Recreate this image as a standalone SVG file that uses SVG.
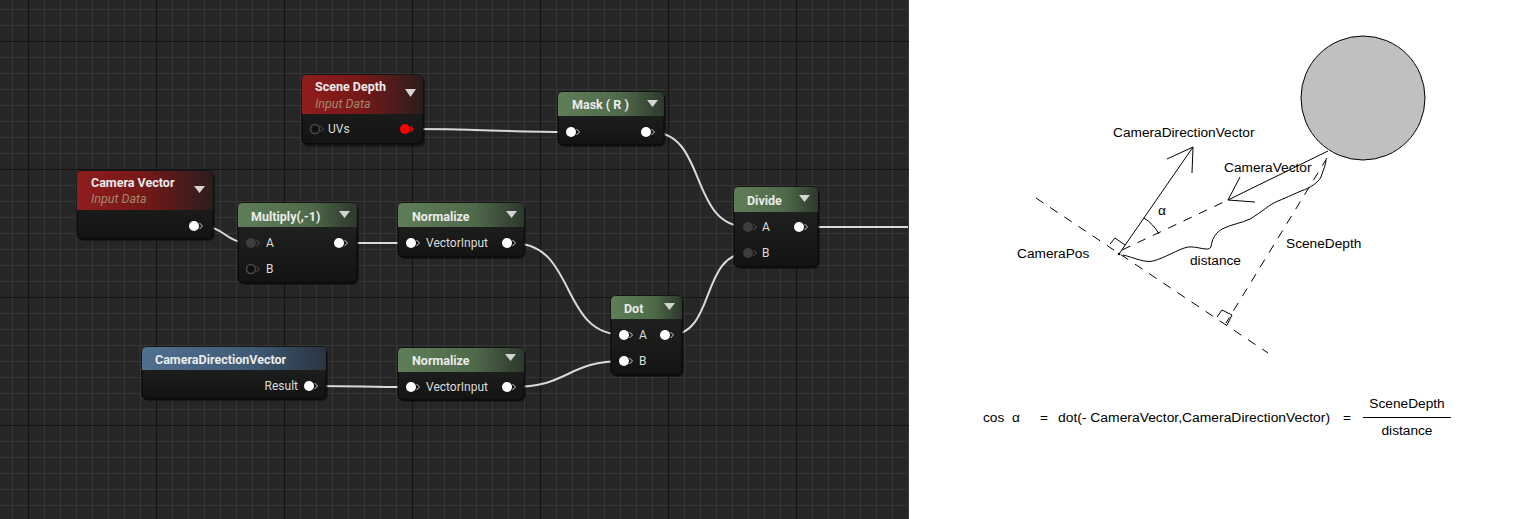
<svg xmlns="http://www.w3.org/2000/svg" width="1524" height="519" viewBox="0 0 1524 519">
<defs>
<style>
.title{font-family:Roboto,"Liberation Sans",sans-serif;font-weight:bold;font-size:12.5px;fill:#ececec}
.sub{font-family:Roboto,"Liberation Sans",sans-serif;font-style:italic;font-size:12.5px;fill:#a4876a}
.pl{font-family:Roboto,"Liberation Sans",sans-serif;font-size:12px;fill:#dcdcdc}
.body{fill:url(#gBody);stroke:#050505;stroke-width:1}
.tri{fill:#d4d4d4}
.wire{fill:none;stroke:#d9d9d9;stroke-width:2}
.lbl{font-family:"Liberation Sans",Arial,sans-serif;font-size:13.7px;fill:#000}
.ln{fill:none;stroke:#000;stroke-width:1}
.dash{fill:none;stroke:#000;stroke-width:1;stroke-dasharray:9 8}
.shadow{fill:#000;opacity:0.35}
</style>
<pattern id="minor" x="0" y="0" width="16" height="16" patternUnits="userSpaceOnUse">
<path d="M12.5 0V16M0 9.5H16" stroke="#363636" stroke-width="1"/>
</pattern>
<pattern id="major" x="0" y="0" width="128" height="128" patternUnits="userSpaceOnUse">
<path d="M28.5 0V128M0 41.5H128" stroke="#141414" stroke-width="1.2"/>
</pattern>
<linearGradient id="gBody" x1="0" y1="0" x2="0" y2="1">
<stop offset="0" stop-color="#242624"/>
<stop offset="1" stop-color="#121312"/>
</linearGradient>
<linearGradient id="gRed" x1="0" y1="0" x2="1" y2="0">
<stop offset="0" stop-color="#911d1d"/>
<stop offset="0.5" stop-color="#751818"/>
<stop offset="1" stop-color="#2b1d1d"/>
</linearGradient>
<linearGradient id="gGreen" x1="0" y1="0" x2="1" y2="0">
<stop offset="0" stop-color="#5f7e58"/>
<stop offset="0.6" stop-color="#4f6a4a"/>
<stop offset="1" stop-color="#2d382c"/>
</linearGradient>
<linearGradient id="gBlue" x1="0" y1="0" x2="1" y2="0">
<stop offset="0" stop-color="#4f7090"/>
<stop offset="0.6" stop-color="#3f5a74"/>
<stop offset="1" stop-color="#2a3440"/>
</linearGradient>
<g id="pinOn"><circle r="5" fill="#ffffff"/><path d="M5.5 -3L8.5 0L5.5 3" fill="none" stroke="#cfcfcf" stroke-width="1"/></g>
<g id="pinDark"><circle r="5" fill="#3d3d3d"/><path d="M5.5 -3L8.5 0L5.5 3" fill="none" stroke="#555" stroke-width="1"/></g>
<g id="pinHollow"><circle r="4.5" fill="#101010" stroke="#4a4a4a" stroke-width="1.5"/><path d="M5.5 -3L8.5 0L5.5 3" fill="none" stroke="#555" stroke-width="1"/></g>
<g id="pinRed"><circle r="5" fill="#ff0000"/><path d="M5.5 -3L8.5 0L5.5 3" fill="#ff0000" stroke="#ff0000" stroke-width="1"/></g>
</defs>

<!-- left panel -->
<rect x="0" y="0" width="909" height="519" fill="#262626"/>
<rect x="0" y="0" width="909" height="519" fill="url(#minor)"/>
<rect x="0" y="0" width="909" height="519" fill="url(#major)"/>
<!-- right panel -->
<rect x="909" y="0" width="615" height="519" fill="#ffffff"/>

<g id="connectors">
<path class="wire" d="M410 129C480 129 500 132 571 132"/>
<path class="wire" d="M651 132C708 132 688 227 748 227"/>
<path class="wire" d="M199 226C226 226 224 243 251 243"/>
<path class="wire" d="M344 243L411 243"/>
<path class="wire" d="M512 243C578 243 558 335 624 335"/>
<path class="wire" d="M314 386C360 386 365 387 411 387"/>
<path class="wire" d="M512 387C570 387 566 361 624 361"/>
<path class="wire" d="M670 335C716 335 700 253 748 253"/>
<path class="wire" d="M804 227L908 227"/>
</g>

<g id="node-scene-depth">
<rect class="shadow" x="303" y="77" width="122" height="70" rx="6"/>
<rect class="body" x="302" y="75" width="121" height="69" rx="5"/>
<path d="M302 114V80Q302 75 307 75H418Q423 75 423 80V114Z" fill="url(#gRed)"/>
<text class="title" x="315" y="91">Scene Depth</text>
<text class="sub" x="315" y="108">Input Data</text>
<path class="tri" d="M405 89H416L410.5 97Z"/>
<use href="#pinHollow" x="315" y="129"/>
<text class="pl" x="328" y="133">UVs</text>
<use href="#pinRed" x="405" y="129"/>
</g>

<g id="node-mask">
<rect class="shadow" x="559" y="94" width="107" height="53" rx="6"/>
<rect class="body" x="558" y="92" width="106" height="53" rx="5"/>
<path d="M558 116V97Q558 92 563 92H659Q664 92 664 97V116Z" fill="url(#gGreen)"/>
<text class="title" x="572" y="109">Mask ( R )</text>
<path class="tri" d="M647 100H658L652.5 107Z"/>
<use href="#pinOn" x="571" y="132"/>
<use href="#pinOn" x="646" y="132"/>
</g>

<g id="node-camera-vector">
<rect class="shadow" x="78" y="173" width="137" height="68" rx="6"/>
<rect class="body" x="77" y="171" width="136" height="68" rx="5"/>
<path d="M77 210V176Q77 171 82 171H208Q213 171 213 176V210Z" fill="url(#gRed)"/>
<text class="title" x="91" y="187">Camera Vector</text>
<text class="sub" x="91" y="203">Input Data</text>
<path class="tri" d="M194 186H205L199.5 193Z"/>
<use href="#pinOn" x="194" y="226"/>
</g>

<g id="node-multiply">
<rect class="shadow" x="239" y="205" width="120" height="80" rx="6"/>
<rect class="body" x="238" y="203" width="119" height="80" rx="5"/>
<path d="M238 227V208Q238 203 243 203H352Q357 203 357 208V227Z" fill="url(#gGreen)"/>
<text class="title" x="251" y="221">Multiply(,-1)</text>
<path class="tri" d="M339 211H350L344.5 218Z"/>
<use href="#pinDark" x="251" y="243"/>
<text class="pl" x="266" y="247">A</text>
<use href="#pinHollow" x="251" y="269"/>
<text class="pl" x="266" y="273">B</text>
<use href="#pinOn" x="339" y="243"/>
</g>

<g id="node-normalize-1">
<rect class="shadow" x="399" y="205" width="127" height="54" rx="6"/>
<rect class="body" x="398" y="203" width="126" height="54" rx="5"/>
<path d="M398 227V208Q398 203 403 203H519Q524 203 524 208V227Z" fill="url(#gGreen)"/>
<text class="title" x="412" y="221">Normalize</text>
<path class="tri" d="M506 211H517L511.5 218Z"/>
<use href="#pinOn" x="411" y="243"/>
<text class="pl" x="426" y="247">VectorInput</text>
<use href="#pinOn" x="507" y="243"/>
</g>

<g id="node-camera-direction-vector">
<rect class="shadow" x="143" y="349" width="185" height="52" rx="6"/>
<rect class="body" x="142" y="347" width="184" height="52" rx="5"/>
<path d="M142 370V352Q142 347 147 347H321Q326 347 326 352V370Z" fill="url(#gBlue)"/>
<text class="title" x="155" y="364">CameraDirectionVector</text>
<text class="pl" x="298" y="390" text-anchor="end">Result</text>
<use href="#pinOn" x="309" y="386"/>
</g>

<g id="node-normalize-2">
<rect class="shadow" x="399" y="350" width="127" height="52" rx="6"/>
<rect class="body" x="398" y="348" width="126" height="52" rx="5"/>
<path d="M398 372V353Q398 348 403 348H519Q524 348 524 353V372Z" fill="url(#gGreen)"/>
<text class="title" x="412" y="365">Normalize</text>
<path class="tri" d="M505 354H516L510.5 361Z"/>
<use href="#pinOn" x="411" y="387"/>
<text class="pl" x="426" y="391">VectorInput</text>
<use href="#pinOn" x="507" y="387"/>
</g>

<g id="node-dot">
<rect class="shadow" x="612" y="298" width="72" height="79" rx="6"/>
<rect class="body" x="611" y="296" width="71" height="79" rx="5"/>
<path d="M611 319V301Q611 296 616 296H677Q682 296 682 301V319Z" fill="url(#gGreen)"/>
<text class="title" x="624" y="313">Dot</text>
<path class="tri" d="M664 303H675L669.5 310Z"/>
<use href="#pinOn" x="624" y="335"/>
<text class="pl" x="639" y="339">A</text>
<use href="#pinOn" x="624" y="361"/>
<text class="pl" x="639" y="365">B</text>
<use href="#pinOn" x="665" y="335"/>
</g>

<g id="node-divide">
<rect class="shadow" x="735" y="189" width="85" height="80" rx="6"/>
<rect class="body" x="734" y="187" width="84" height="80" rx="5"/>
<path d="M734 212V192Q734 187 739 187H813Q818 187 818 192V212Z" fill="url(#gGreen)"/>
<text class="title" x="747" y="205">Divide</text>
<path class="tri" d="M799 195H810L804.5 202Z"/>
<use href="#pinDark" x="748" y="227"/>
<text class="pl" x="762" y="231">A</text>
<use href="#pinDark" x="748" y="253"/>
<text class="pl" x="762" y="257">B</text>
<use href="#pinOn" x="799" y="227"/>
</g>

<!-- right-hand sketch -->
<g id="sketch">
<circle cx="1363" cy="98" r="62" fill="#c0c0c0" stroke="#000" stroke-width="1"/>
<path class="dash" d="M1036 198L1268 353"/>
<path class="dash" d="M1327 158L1226 323"/>
<path class="dash" d="M1122 250L1228 200"/>
<path class="ln" d="M1119 254L1193 147M1167 159L1193 147L1192 173"/>
<path class="ln" d="M1328 151L1228 200M1240 177L1228 200L1255 202"/>
<path class="ln" d="M1110 244L1115 238L1125 245"/>
<path class="ln" d="M1217 317L1222 310L1232 315L1227 325"/>
<path class="ln" d="M1144 218A44 44 0 0 1 1159 234"/>
<path class="ln" d="M1123 255C1135 258 1145 263 1153 261C1165 258 1178 249 1188 247C1198 246 1208 252 1211 247C1212 240 1214 234 1222 229C1232 224 1242 223 1250 219C1262 212 1270 204 1278 201C1288 197 1296 193 1301 191C1310 188 1318 183 1321 177C1323 170 1326 165 1326 160"/>
<circle cx="1119" cy="254" r="1.3" fill="#000"/>
<text class="lbl" x="1113" y="137">CameraDirectionVector</text>
<text class="lbl" x="1224" y="172">CameraVector</text>
<text class="lbl" x="1017" y="258">CameraPos</text>
<text class="lbl" x="1190" y="265">distance</text>
<text class="lbl" x="1286" y="248">SceneDepth</text>
<text class="lbl" x="1158" y="215" font-size="16">α</text>
</g>

<g id="formula">
<text class="lbl" x="983" y="422">cos</text>
<text class="lbl" x="1012" y="422" font-size="17">α</text>
<text class="lbl" x="1040" y="422">=</text>
<text class="lbl" x="1058" y="422" textLength="272" lengthAdjust="spacingAndGlyphs">dot(- CameraVector,CameraDirectionVector)</text>
<text class="lbl" x="1343" y="422">=</text>
<path class="ln" d="M1363 417.5H1451"/>
<text class="lbl" x="1407" y="408" text-anchor="middle">SceneDepth</text>
<text class="lbl" x="1407" y="435" text-anchor="middle">distance</text>
</g>
</svg>
